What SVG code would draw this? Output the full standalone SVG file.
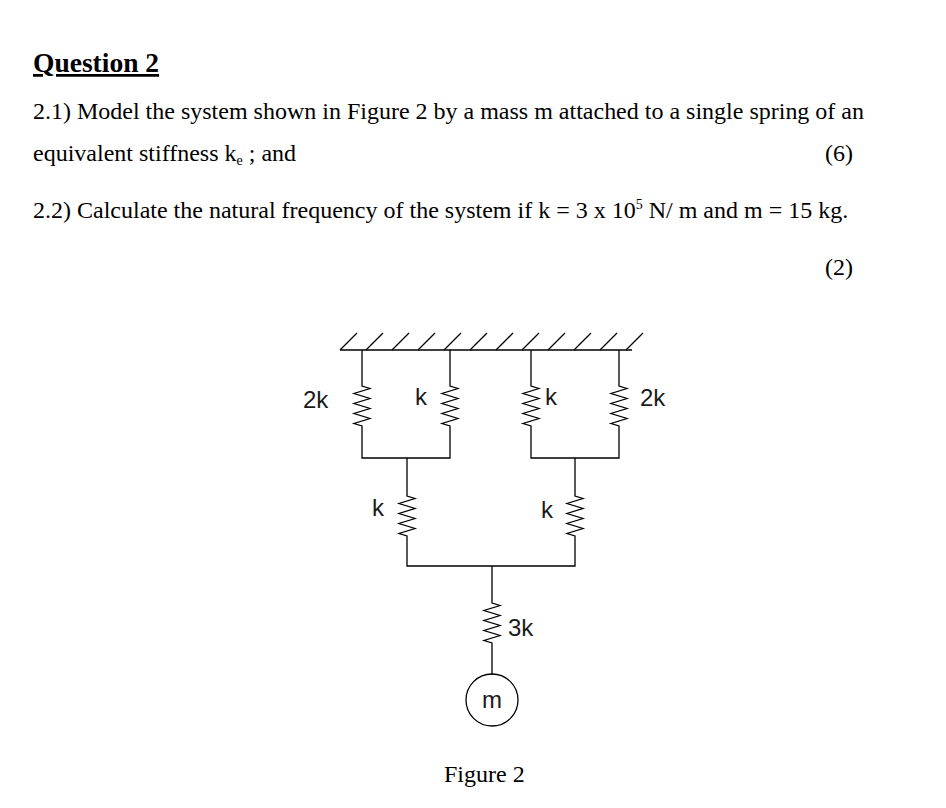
<svg xmlns="http://www.w3.org/2000/svg" width="946" height="808" viewBox="0 0 946 808">
<style>
.t{font-family:"Liberation Serif",serif;font-size:24px;fill:#000}
.h{font-family:"Liberation Serif",serif;font-size:27.5px;font-weight:bold;text-decoration:underline;fill:#000}
.s{font-size:14px}
.l{font-family:"Liberation Sans",sans-serif;font-size:24px;fill:#1a1a1a}
.w{fill:none;stroke:#000;stroke-width:1.3}
</style>
<defs>
<path id="sp" class="w" d="M0,0 v8 l8,2.5 l-16,5 l16,5 l-16,5 l16,5 l-16,5 l16,5 l-16,5 l8,2.5 v8"/>
</defs>
<rect width="946" height="808" fill="#fff"/>
<text class="h" x="33" y="72">Question 2</text>
<text class="t" x="33" y="119" textLength="831">2.1) Model the system shown in Figure 2 by a mass m attached to a single spring of an</text>
<text class="t" x="33" y="161">equivalent stiffness k<tspan class="s" dy="4">e</tspan><tspan dy="-4"> ; and</tspan></text>
<text class="t" x="825" y="161">(6)</text>
<text class="t" x="33" y="218">2.2) Calculate the natural frequency of the system if k = 3 x 10<tspan class="s" dy="-9">5</tspan><tspan dy="9"> N/ m and m = 15 kg.</tspan></text>
<text class="t" x="825" y="275">(2)</text>
<g id="ground">
<line class="w" x1="340" y1="350" x2="632" y2="350"/>
<path class="w" d="M340,350 l17,-17 M366,350 l17,-17 M392,350 l17,-17 M418,350 l17,-17 M444,350 l17,-17 M470,350 l17,-17 M496,350 l17,-17 M522,350 l17,-17 M548,350 l17,-17 M574,350 l17,-17 M600,350 l17,-17 M626,350 l17,-17"/>
</g>
<g id="connectors">
<path class="w" d="M362,350 v28 M450,350 v28 M531,350 v28 M619,350 v28"/>
<path class="w" d="M362,434 v24 h88 v-24 M531,434 v24 h88 v-24"/>
<path class="w" d="M407,458 v30 M575,458 v30"/>
<path class="w" d="M407,544 v22 h168 v-22 M492,566 v29 M492,651 v24"/>
</g>
<g id="s2kL"><use href="#sp" x="362" y="378"/><text class="l" x="303" y="408">2k</text></g>
<g id="skL"><use href="#sp" x="450" y="378"/><text class="l" x="415" y="405">k</text></g>
<g id="skR"><use href="#sp" x="531" y="378"/><text class="l" x="545" y="405">k</text></g>
<g id="s2kR"><use href="#sp" x="619" y="378"/><text class="l" x="640" y="406">2k</text></g>
<g id="skML"><use href="#sp" x="407" y="488"/><text class="l" x="372" y="516">k</text></g>
<g id="skMR"><use href="#sp" x="575" y="488"/><text class="l" x="541" y="518">k</text></g>
<g id="s3k"><use href="#sp" x="492" y="595"/><text class="l" x="508" y="636">3k</text></g>
<g id="mass"><circle class="w" cx="492" cy="700" r="26"/><text class="l" x="492" y="708" text-anchor="middle">m</text></g>
<text class="t" x="444" y="782">Figure 2</text>
</svg>
